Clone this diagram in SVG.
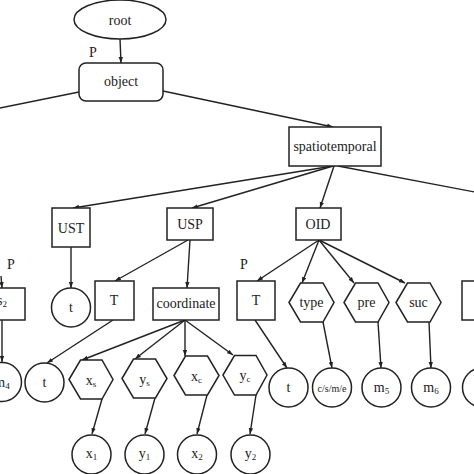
<svg xmlns="http://www.w3.org/2000/svg" width="474" height="474" viewBox="0 0 474 474">
<defs>
<marker id="arr" markerUnits="userSpaceOnUse" markerWidth="6" markerHeight="6" viewBox="0 0 6 6" refX="6" refY="3" orient="auto">
<path d="M0,0.8 L6,3 L0,5.2 Z" fill="#222"/>
</marker>
<style>
.n{fill:#fff;stroke:#222;stroke-width:1.5}
.t{font-family:"Liberation Serif","Times New Roman",serif;font-size:14px;fill:#222;text-anchor:middle}
.s{font-size:9px}
.c line{stroke:#222;stroke-width:1.4;marker-end:url(#arr)}
.c line.na{marker-end:none}
</style>
</defs>
<rect width="474" height="474" fill="#fff"/>
<g class="c" id="connectors">
<line x1="120" y1="39" x2="121" y2="63"/>
<line class="na" x1="79" y1="92" x2="-5" y2="109"/>
<line x1="163" y1="91" x2="333" y2="127"/>
<line x1="333" y1="166" x2="73" y2="208"/>
<line x1="333" y1="166" x2="192" y2="208"/>
<line x1="334" y1="166" x2="320" y2="208"/>
<line class="na" x1="338" y1="166" x2="480" y2="193"/>
<line x1="71" y1="247" x2="71" y2="288"/>
<line x1="188" y1="240" x2="115" y2="281"/>
<line x1="190" y1="240" x2="187" y2="288"/>
<line x1="1" y1="276" x2="2" y2="288"/>
<line x1="2" y1="320" x2="2" y2="362"/>
<line x1="113" y1="320" x2="47" y2="363"/>
<line x1="185" y1="320" x2="82" y2="360"/>
<line x1="185" y1="320" x2="135" y2="359"/>
<line x1="185" y1="320" x2="185" y2="356"/>
<line x1="185" y1="320" x2="233" y2="355"/>
<line x1="102" y1="399" x2="92" y2="434"/>
<line x1="155" y1="398" x2="145" y2="434"/>
<line x1="207" y1="395" x2="197" y2="434"/>
<line x1="256" y1="395" x2="250" y2="434"/>
<line x1="319" y1="240" x2="257" y2="281"/>
<line x1="319" y1="240" x2="302" y2="283"/>
<line x1="319" y1="240" x2="354" y2="283"/>
<line x1="319" y1="240" x2="405" y2="283"/>
<line x1="255" y1="320" x2="287" y2="368"/>
<line x1="323" y1="322" x2="332" y2="368"/>
<line x1="378" y1="322" x2="381" y2="368"/>
<line x1="429" y1="322" x2="431" y2="368"/>
</g>
<g id="root"><ellipse class="n" cx="120" cy="19.5" rx="46" ry="19.5"/><text class="t" x="120" y="25">root</text></g>
<g id="p1"><text class="t" x="93" y="57">P</text></g>
<g id="object"><rect class="n" x="79" y="63" width="84" height="38" rx="7"/><text class="t" x="121" y="86">object</text></g>
<g id="spatiotemporal"><rect class="n" x="289" y="127" width="92" height="39"/><text class="t" x="335" y="151">spatiotemporal</text></g>
<g id="UST"><rect class="n" x="52" y="208" width="38" height="39"/><text class="t" x="71" y="233">UST</text></g>
<g id="USP"><rect class="n" x="167" y="208" width="46" height="32"/><text class="t" x="190" y="229">USP</text></g>
<g id="OID"><rect class="n" x="296" y="208" width="45" height="32"/><text class="t" x="318" y="229">OID</text></g>
<g id="t1"><circle class="n" cx="71" cy="307.5" r="19.5"/><text class="t" x="71" y="312">t</text></g>
<g id="p2"><text class="t" x="11" y="269">P</text></g>
<g id="leftbox"><rect class="n" x="-20" y="288" width="45" height="32"/><text class="t" x="2" y="305">s<tspan class="s" dy="2">2</tspan></text></g>
<g id="m4"><circle class="n" cx="2" cy="382" r="19.5"/><text class="t" x="2" y="387">m<tspan class="s" dy="2">4</tspan></text></g>
<g id="T1"><rect class="n" x="95" y="281" width="39" height="39"/><text class="t" x="114" y="305">T</text></g>
<g id="coordinate"><rect class="n" x="153" y="288" width="66" height="32"/><text class="t" x="186" y="308">coordinate</text></g>
<g id="t2"><circle class="n" cx="44.5" cy="382.5" r="19.5"/><text class="t" x="44.5" y="387">t</text></g>
<g id="xs"><polygon class="n" points="69,379.5 80.5,360 102,360 113,379.5 102,399 80.5,399"/><text class="t" x="91" y="385">x<tspan class="s" dy="2">s</tspan></text></g>
<g id="ys"><polygon class="n" points="122,378.5 133.5,359 155.5,359 167,378.5 155.5,398 133.5,398"/><text class="t" x="144.5" y="384">y<tspan class="s" dy="2">s</tspan></text></g>
<g id="xc"><polygon class="n" points="174,375.5 185.5,356 207.5,356 219,375.5 207.5,395 185.5,395"/><text class="t" x="196.5" y="381">x<tspan class="s" dy="2">c</tspan></text></g>
<g id="yc"><polygon class="n" points="223,375 234.5,355.5 256,355.5 267,375 256,395 234.5,395"/><text class="t" x="245" y="380">y<tspan class="s" dy="2">c</tspan></text></g>
<g id="x1"><circle class="n" cx="91.5" cy="454.5" r="19.5"/><text class="t" x="91.5" y="458">x<tspan class="s" dy="2">1</tspan></text></g>
<g id="y1"><circle class="n" cx="144.5" cy="454.5" r="19.5"/><text class="t" x="144.5" y="458">y<tspan class="s" dy="2">1</tspan></text></g>
<g id="x2"><circle class="n" cx="197" cy="454.5" r="19.5"/><text class="t" x="197" y="458">x<tspan class="s" dy="2">2</tspan></text></g>
<g id="y2"><circle class="n" cx="250.5" cy="454.5" r="19.5"/><text class="t" x="250.5" y="458">y<tspan class="s" dy="2">2</tspan></text></g>
<g id="p3"><text class="t" x="244" y="269">P</text></g>
<g id="T2"><rect class="n" x="237" y="281" width="38" height="39"/><text class="t" x="256" y="305">T</text></g>
<g id="type"><polygon class="n" points="289,302.5 300.5,283 323,283 334,302.5 323,322 300.5,322"/><text class="t" x="311.5" y="307">type</text></g>
<g id="pre"><polygon class="n" points="344,302.5 355.5,283 378,283 389,302.5 378,322 355.5,322"/><text class="t" x="366.5" y="307">pre</text></g>
<g id="suc"><polygon class="n" points="396,302.5 407.5,283 430,283 441,302.5 430,322 407.5,322"/><text class="t" x="418.5" y="307">suc</text></g>
<g id="rightbox"><rect class="n" x="462" y="281" width="40" height="39"/></g>
<g id="t3"><circle class="n" cx="288.5" cy="387.5" r="19.5"/><text class="t" x="288.5" y="392">t</text></g>
<g id="csme"><circle class="n" cx="332" cy="387.5" r="19.5"/><text class="t" x="332" y="392" style="font-size:10px">c/s/m/e</text></g>
<g id="m5"><circle class="n" cx="381.5" cy="387.5" r="19.5"/><text class="t" x="381.5" y="392">m<tspan class="s" dy="2">5</tspan></text></g>
<g id="m6"><circle class="n" cx="431" cy="387.5" r="19.5"/><text class="t" x="431" y="392">m<tspan class="s" dy="2">6</tspan></text></g>
<g id="rightcircle"><circle class="n" cx="482" cy="387.5" r="19.5"/></g>
</svg>
